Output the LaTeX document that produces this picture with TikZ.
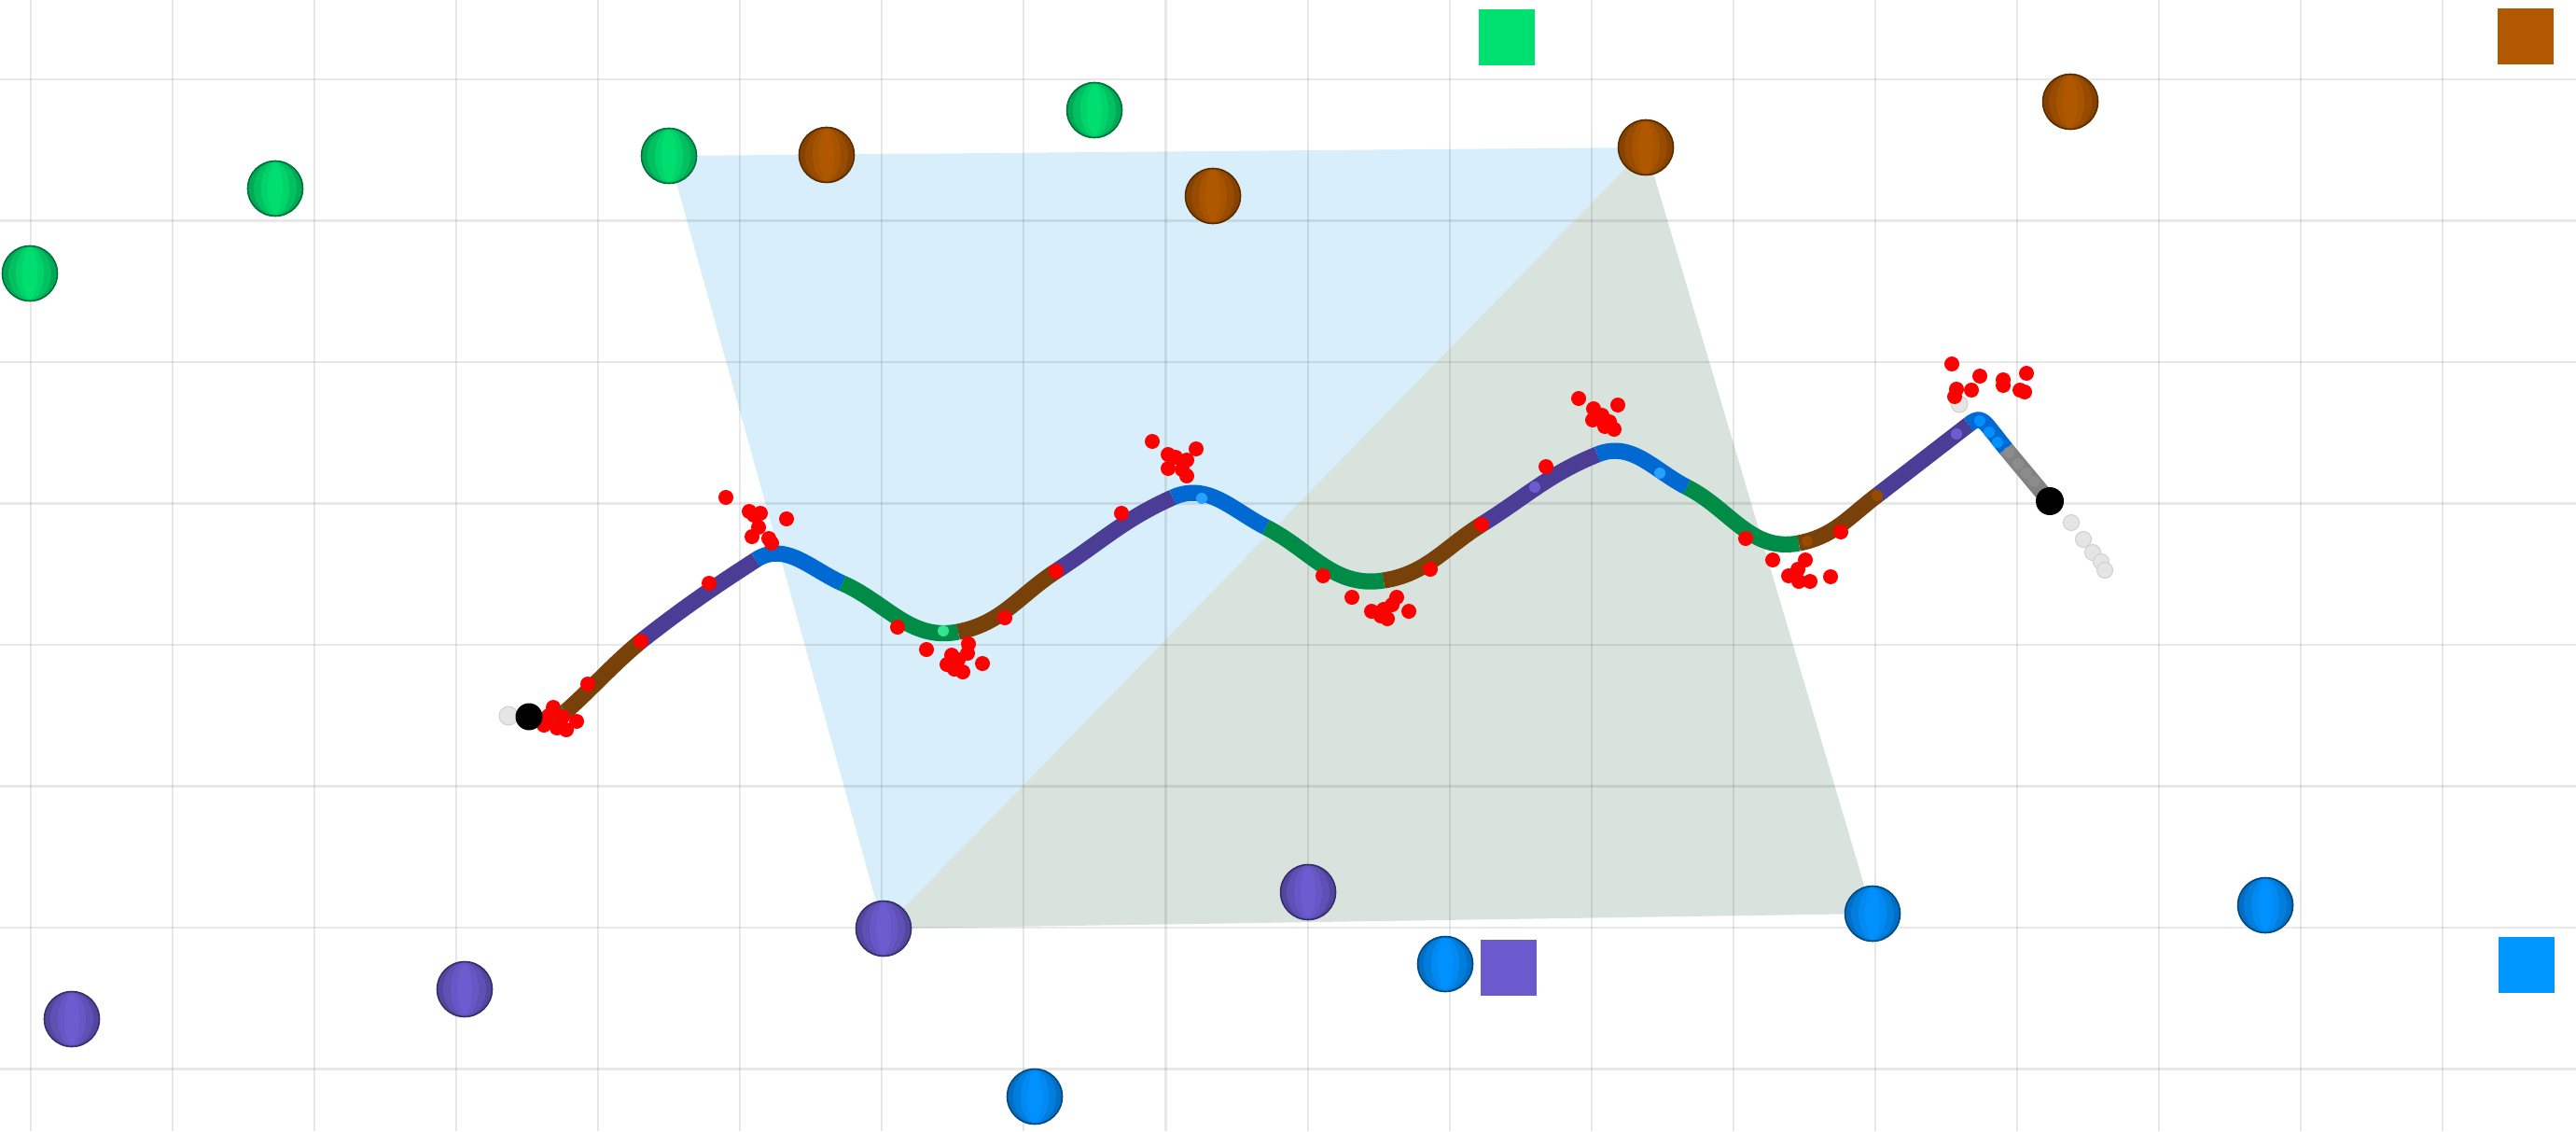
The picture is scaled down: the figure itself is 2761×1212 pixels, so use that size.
\documentclass[tikz,border=0pt]{standalone}
\usepackage{tikz}
\definecolor{planeblue}{RGB}{216,238,250}
\definecolor{planegray}{RGB}{217,227,222}
\definecolor{sgreen}{RGB}{0,222,112}
\definecolor{sbrown}{RGB}{176,88,0}
\definecolor{spurple}{RGB}{108,92,208}
\definecolor{sblue}{RGB}{0,145,255}
\definecolor{qgreen}{RGB}{0,224,112}
\definecolor{qbrown}{RGB}{178,88,0}
\definecolor{qpurple}{RGB}{106,90,205}
\definecolor{qblue}{RGB}{0,150,255}
\definecolor{tpurple}{RGB}{75,60,150}
\definecolor{tblue}{RGB}{0,105,210}
\definecolor{tgreen}{RGB}{0,140,70}
\definecolor{tbrown}{RGB}{120,65,10}
\definecolor{tgray}{RGB}{130,130,130}
\newcommand\myball[3]{%
  \fill[#3!76!black] (#1,#2) circle (29.5);
  \fill[#3!87!black] (#1,#2) ellipse [x radius=23, y radius=29];
  \fill[#3!95!black] (#1,#2) ellipse [x radius=15, y radius=28.5];
  \fill[#3] (#1,#2) ellipse [x radius=8, y radius=27];
  \draw[#3!50!black, line width=0.45pt] (#1,#2) circle (29.5);
}
\tikzset{
  gridline/.style={black, opacity=0.09, line width=0.6pt},
  tube/.style={line width=4.9pt},
  reddot/.style={fill=red},
  ghost/.style={fill=black!10, draw=black!18, line width=0.3pt},
}
\begin{document}
\begin{tikzpicture}[x=0.01cm, y=-0.01cm]
\useasboundingbox (0,0) rectangle (2761,1212);
\fill[white] (0,0) rectangle (2761,1212);
% planes
\fill[planeblue] (717,167) -- (1764,158) -- (947,995) -- cycle;
\fill[planegray] (1764,158) -- (947,995) -- (2007,979) -- cycle;
% grid
\foreach \i in {0,...,17} \draw[gridline] ({33+152.06*\i},0) -- ({33+152.06*\i},1212);
\foreach \j in {0,...,7} \draw[gridline] (0,{85+151.5*\j}) -- (2761,{85+151.5*\j});
% spheres
\myball{32}{293}{sgreen}
\myball{295}{202}{sgreen}
\myball{717}{167}{sgreen}
\myball{1173}{118}{sgreen}
\myball{886}{166}{sbrown}
\myball{1300}{210}{sbrown}
\myball{1764}{158}{sbrown}
\myball{2219}{109}{sbrown}
\myball{77}{1092}{spurple}
\myball{498}{1060}{spurple}
\myball{947}{995}{spurple}
\myball{1402}{956}{spurple}
\myball{1109}{1175}{sblue}
\myball{1549}{1033}{sblue}
\myball{2007}{979}{sblue}
\myball{2428}{970}{sblue}
% squares
\fill[qgreen] (1585,10) rectangle (1645,70);
\fill[qbrown] (2677,9) rectangle (2737,69);
\fill[qpurple] (1587,1007) rectangle (1647,1067);
\fill[qblue] (2678,1004) rectangle (2738,1064);
% ghost dots
\fill[ghost] (545,767) circle (10);
\fill[ghost] (2100,433) circle (9);
\foreach \p in {(2220,560),(2233,578),(2243,592),(2252,602),(2256,611)} \fill[ghost] \p circle (8.5);
% trajectory tube
\draw[tube, tgreen] (590,777) -- (607,762);
\draw[tube, tbrown] (607,762) .. controls (638.8,733.4) and (654.2,714.5) .. (687,687);
\draw[tube, tpurple] (687,687) .. controls (733.3,650.8) and (760.7,632.0) .. (810,600);
\draw[tube, tblue] (810,600) .. controls (841.5,579.5) and (868.6,609.7) .. (903,625);
\draw[tube, tgreen] (903,625) .. controls (950.9,646.3) and (975.6,687.0) .. (1027,677);
\draw[tube, tbrown] (1027,677) .. controls (1074.3,667.8) and (1091.6,638.3) .. (1132,612);
\draw[tube, tpurple] (1132,612) .. controls (1180.4,580.6) and (1204.3,556.5) .. (1257,533);
\draw[tube, tblue] (1257,533) .. controls (1294.5,516.3) and (1320.5,546.4) .. (1357,565);
\draw[tube, tgreen] (1357,565) .. controls (1405.0,589.5) and (1429.7,630.4) .. (1483,622);
\draw[tube, tbrown] (1483,622) .. controls (1529.6,614.6) and (1548,587) .. (1588,562);
\draw[tube, tpurple] (1588,562) .. controls (1635.9,532.1) and (1659.6,508.2) .. (1712,487);
\draw[tube, tblue] (1712,487) .. controls (1749,472.0) and (1772.4,503.9) .. (1808,522);
\draw[tube, tgreen] (1808,522) .. controls (1854.6,545.7) and (1876.6,592) .. (1928,582);
\draw[tube, tbrown] (1928,582) .. controls (1966.2,574.6) and (1981.9,553.4) .. (2013,530);
\draw[tube, tpurple] (2013,530) -- (2110,455);
\draw[tube, tblue] (2110,455) .. controls (2120,447) and (2124,449) .. (2131,457) -- (2150,481);
\draw[tube, tgray] (2150,481) -- (2190,529);
% small beads on the tube
\fill[sgreen!80!white] (1011,676) circle (6);
\fill[sblue!85!white] (1288,534) circle (6);
\fill[spurple] (1645,522) circle (6);
\fill[sblue!85!white] (1779,507) circle (6);
\fill[sbrown!85!black] (1937,580) circle (6);
\fill[sbrown!85!black] (2012,531) circle (6);
\fill[spurple] (2097,465) circle (6);
\foreach \p in {(2122,451),(2132,463),(2141,474)} \fill[sblue] \p circle (6);
\foreach \p in {(2153,485),(2163,497),(2172,507),(2180,516)} \fill[black!45] \p circle (6);
% red dots
\foreach \p in {
 (593,758),(583,777),(597,780),(607,782),(618,773),(603,768),(588,767),
 (630,733),(687,687),(760,625),
 (778,533),(803,548),(815,550),(843,556),(813,565),(806,575),(824,577),(827,582),(808,552),
 (962,672),(993,696),(1038,690),(1053,711),(1015,712),(1027,707),(1032,720),(1023,717),(1037,700),(1020,702),
 (1077,662),(1132,612),
 (1235,473),(1252,487),(1282,481),(1260,490),(1272,493),(1252,502),(1267,503),(1272,510),
 (1202,550),
 (1418,617),(1449,640),(1497,640),(1510,655),(1470,655),(1483,653),(1487,663),(1480,660),(1492,648),
 (1533,610),
 (1692,427),(1734,434),(1708,438),(1717,445),(1707,450),(1725,452),(1730,460),(1720,457),
 (1657,500),(1588,562),
 (1871,577),(1900,600),(1935,600),(1962,618),(1917,617),(1928,623),(1940,623),(1927,610),
 (1973,570),
 (2092,390),(2122,403),(2147,407),(2172,400),(2097,417),(2113,418),(2147,413),(2165,418),(2170,420),(2095,425)}
 \fill[reddot] \p circle (8);
% end markers
\fill[black] (567,768) circle (14.5);
\fill[black] (2197,537) circle (15);
\end{tikzpicture}
\end{document}
